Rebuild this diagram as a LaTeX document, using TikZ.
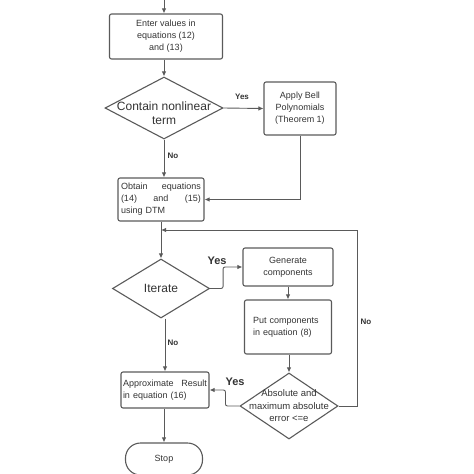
\documentclass[tikz,border=0pt]{standalone}
\usepackage{fontspec}
\setmainfont{Liberation Sans}
\usetikzlibrary{shapes.geometric,arrows.meta}
\definecolor{linegray}{HTML}{5A5A5A}
\definecolor{textgray}{HTML}{333333}

\begin{document}
\begin{tikzpicture}[x=1pt,y=-1pt,
	box/.style={draw=linegray, line width=1.1pt, rounded corners=2pt, inner sep=0pt, align=center, text=textgray, font=\fontsize{9}{12}\selectfont},
	dec/.style={draw=linegray, line width=1.1pt, diamond, inner sep=0pt},
	dectext/.style={align=center, text=textgray, font=\fontsize{9.5}{12.5}\selectfont},
	flow/.style={draw=linegray, line width=0.9pt, -{Latex[length=5pt,width=4.5pt]}},
	link/.style={draw=linegray, line width=0.9pt},
	yesno/.style={text=textgray, font=\bfseries\fontsize{8}{10}\selectfont},
	bigyes/.style={text=textgray, font=\bfseries\fontsize{11}{13}\selectfont}]
			%%%%% START %%%%%
			
			\useasboundingbox (0,0) rectangle (474,474);
			
			\coordinate (start) at (164,0);
			\node[box, minimum width=113pt, minimum height=45pt] (enter) at (166,36.5) {Enter values in\\equations (12)\\and (13)};
			\node[dec, minimum width=118pt, minimum height=62pt, label={[dectext, font=\fontsize{12}{14}\selectfont, yshift=-5pt]center:Contain nonlinear\\term}] (nonlin) at (164,108) {};
			\node[box, minimum width=72pt, minimum height=53pt] (bell) at (300,108.5) {Apply Bell\\Polynomials\\(Theorem 1)};
			\node[box, minimum width=86pt, minimum height=43pt, text width=80pt, align=left] (obtain) at (161,199.5) {Obtain\hfill equations\\(14)\hfill and\hfill (15)\\using DTM};
			
			\node[dec, minimum width=97pt, minimum height=59pt, label={[dectext, font=\fontsize{12}{14}\selectfont]center:Iterate}] (iter) at (161,288.5) {};
			\node[box, minimum width=90pt, minimum height=38pt] (gen) at (288,267) {Generate\\components};
			\node[box, minimum width=87pt, minimum height=54pt, text width=70pt, align=left] (put) at (288,327) {Put components\\in equation (8)};
			\node[dec, minimum width=98pt, minimum height=66pt, label={[dectext]center:Absolute and\\maximum absolute\\error <=e}] (err) at (289,406) {};
			
			\node[box, minimum width=88pt, minimum height=36pt, text width=84pt, align=left] (approx) at (165,390) {Approximate\hfill Result\\in equation (16)};
			\node[box, rounded corners=15pt, minimum width=77pt, minimum height=32pt] (stop) at (164,459) {Stop};
			
			\coordinate (join) at (161,230);
			\coordinate (loop) at (357,230);
			
			% connectors
			\draw[flow] (start) -- (start |- enter.north);
			\draw[flow] (nonlin.north |- enter.south) -- (nonlin.north);
			\draw[flow] (nonlin.east) -- (bell.west);
			\draw[flow] (nonlin.south) -- (nonlin.south |- obtain.north);
			\draw[flow] (bell.south) |- (obtain.east);
			\draw[flow] (obtain.south) -- (iter.north);
			\draw[flow, rounded corners=2pt] (iter.east) -- ++(13,0) |- (gen.west);
			\draw[flow] (gen.south) -- (put.north);
			\draw[flow] (put.south -| err.north) -- (err.north);
			\draw[flow] (err.east) -| (loop) -- (join);
			\draw[flow, rounded corners=2pt] (err.west) -- ++(-14,0) |- (approx.east);
			\draw[flow] (iter.south -| approx.north) -- (approx.north);
			\draw[flow] (approx.south -| stop.north) -- (stop.north);
			
			% labels
			\node[yesno] (yes1) at (242,97) {Yes};
			\node[yesno] (no1) at (173,156) {No};
			\node[bigyes] (yes2) at (217,261) {Yes};
			\node[yesno] (no2) at (173,343) {No};
			\node[bigyes] (yes3) at (235,382) {Yes};
			\node[yesno] (no3) at (366,322) {No};
			
			%%%%% END %%%%%
\end{tikzpicture}
\end{document}
